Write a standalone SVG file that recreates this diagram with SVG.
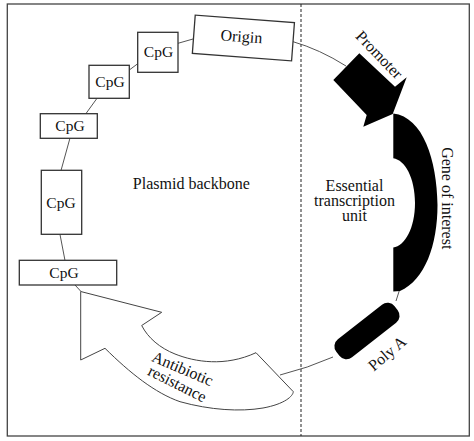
<svg xmlns="http://www.w3.org/2000/svg" width="474" height="441" viewBox="0 0 474 441">
<style>
.lbl{font-family:"Liberation Serif","Times New Roman",serif;font-size:16px;fill:#111;text-anchor:middle}
.cpg{font-size:15.5px}
.box{fill:#fff;stroke:#333;stroke-width:1.3}
.bb{fill:none;stroke:#555;stroke-width:1}
.blk{fill:#000;stroke:none}
</style>
<rect width="474" height="441" fill="#fff"/>
<rect id="frame" x="7.3" y="4" width="462" height="432" fill="none" stroke="#444" stroke-width="1.3"/>
<line id="divider" x1="301" y1="4" x2="301" y2="436" stroke="#222" stroke-width="1" stroke-dasharray="3,2"/>
<g id="backbone" class="bb">
<path d="M178,43.3 L193,39"/>
<path d="M292.5,41.5 Q320,49.5 346,66"/>
<path d="M399.5,290 L396,301"/>
<path d="M333,357 Q308,368 280,375"/>
<path d="M75,285 L81,291.5"/>
<path d="M60,234.5 L65,260.5"/>
<path d="M61,170.5 L70,138"/>
<path d="M86,113.5 L97,98.3"/>
<path d="M129.3,70 L138,63.5"/>
</g>
<g id="cpg1"><rect class="box" x="137.7" y="32.3" width="40.3" height="40"/><text class="lbl cpg" x="158.5" y="57.3">CpG</text></g>
<g id="cpg2"><rect class="box" x="89" y="65.3" width="40.3" height="33"/><text class="lbl cpg" x="110" y="86.8">CpG</text></g>
<g id="cpg3"><rect class="box" x="40.3" y="113.7" width="57" height="24.6"/><text class="lbl cpg" x="70" y="131">CpG</text></g>
<g id="cpg4"><rect class="box" x="41.3" y="170.3" width="40.4" height="64"/><text class="lbl cpg" x="61" y="207.8">CpG</text></g>
<g id="cpg5"><rect class="box" x="19.3" y="260.3" width="97.4" height="24.7"/><text class="lbl cpg" x="64" y="277.5">CpG</text></g>
<g id="origin" transform="translate(243.4,38) rotate(4.3)"><rect class="box" x="-49.75" y="-19.2" width="99.5" height="38.4" stroke-width="1.1"/><text class="lbl" x="-2" y="4">Origin</text></g>
<g id="promoter"><polygon class="blk" points="333.3,80 359.3,53.3 395,86.7 406.7,77.3 392.7,114 363.3,126.7 366.7,115"/><text class="lbl" transform="translate(375.4,58.5) rotate(46)">Promoter</text></g>
<g id="gene"><path class="blk" d="M393.3,113.5 C423,117 437,160 437.5,205 C437.5,245 425,280 400,291 L393.3,291.5 L393.3,247.5 C405,246 415,228 415,203 C415,178 405,160 393.3,158.3 Z"/><text class="lbl" transform="translate(442,198.3) rotate(90)">Gene of interest</text></g>
<g id="polya"><rect class="blk" x="-37" y="-11.5" width="74" height="23" rx="9" transform="translate(367,331) rotate(-38)"/><text class="lbl" transform="translate(390.5,357.5) rotate(-40)">Poly A</text></g>
<g id="antibiotic"><path d="M80.7,291.5 L161.7,312.3 L141.7,325.5 C148,338 160,348 175,354 C195,362 225,367 256,352.7 L293.3,391.7 C293,396 285,404 263,408 C240,412 210,410 180,401.7 C155,393 130,373 105,348.3 L80.7,360 Z" fill="#fff" stroke="#444" stroke-width="1"/><text class="lbl" transform="translate(180.5,373.5) rotate(23)">Antibiotic</text><text class="lbl" transform="translate(175,388.5) rotate(26.6)">resistance</text></g>
<g id="backbone-label"><text class="lbl" x="191.3" y="189">Plasmid backbone</text></g>
<g id="unit-label"><text class="lbl" x="354.5" y="190.5">Essential</text><text class="lbl" x="354.5" y="205.5">transcription</text><text class="lbl" x="354.5" y="221">unit</text></g>
</svg>
